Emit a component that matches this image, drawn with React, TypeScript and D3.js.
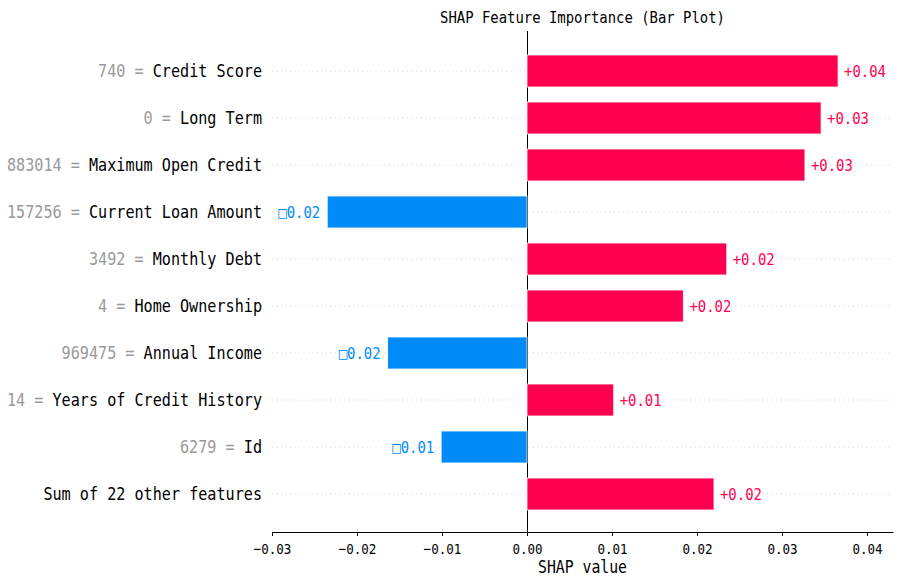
import * as d3 from 'd3'
import { useEffect, useRef } from 'react'

// feature names, their values and SHAP values (top to bottom)
const features = [
    'Credit Score',
    'Long Term',
    'Maximum Open Credit',
    'Current Loan Amount',
    'Monthly Debt',
    'Home Ownership',
    'Annual Income',
    'Years of Credit History',
    'Id',
    'Sum of 22 other features',
]
const featureValues = ['740', '0', '883014', '157256', '3492', '4', '969475', '14', '6279', '']
const shapValues = [0.0366, 0.0346, 0.0327, -0.0235, 0.0235, 0.0184, -0.0164, 0.0102, -0.0101, 0.022]
const xTicks = [-0.03, -0.02, -0.01, 0, 0.01, 0.02, 0.03, 0.04]

const RED = '#ff0051'
const BLUE = '#008bfb'
const FONT = '"DejaVu Sans Mono", monospace'
const SX = 0.86 // squeeze glyphs horizontally to look like a narrow CJK-style mono font

export default function App() {
    const svgRef = useRef<SVGSVGElement>(null)
    const width = 901
    const height = 584

    useEffect(() => {
        if (!svgRef.current) return
        const svg = d3.select(svgRef.current)
        svg.selectAll('*').remove()

        const margin = { top: 31, right: 8, bottom: 52, left: 272 }
        const innerHeight = height - margin.top - margin.bottom

        const x = d3
            .scaleLinear()
            .domain([-0.03, 0.04306])
            .range([margin.left, width - margin.right])

        const step = 47
        const y = (i: number) => margin.top + 40 + i * step
        const barH = 32

        const label = (px: number, py: number, size: number, anchor = 'start') =>
            svg
                .append('g')
                .attr('transform', `translate(${px},${py}) scale(${SX},1)`)
                .append('text')
                .attr('text-anchor', anchor)
                .style('font-family', FONT)
                .style('font-size', `${size}px`)

        // title
        label((margin.left + width - margin.right) / 2, 22.5, 16.2, 'middle').text(
            'SHAP Feature Importance (Bar Plot)'
        )

        // dotted row guides
        svg.selectAll('.guide')
            .data(features)
            .enter()
            .append('line')
            .attr('x1', margin.left)
            .attr('x2', width - margin.right)
            .attr('y1', (_, i) => y(i))
            .attr('y2', (_, i) => y(i))
            .attr('stroke', '#cccccc')
            .attr('stroke-width', 0.8)
            .attr('stroke-dasharray', '1 3.5')

        // zero line
        const x0 = Math.round(x(0)) + 0.5
        svg.append('line')
            .attr('x1', x0)
            .attr('x2', x0)
            .attr('y1', margin.top)
            .attr('y2', margin.top + innerHeight)
            .attr('stroke', '#000')
            .attr('stroke-width', 1)

        // bars
        svg.selectAll('.bar')
            .data(shapValues)
            .enter()
            .append('rect')
            .attr('x', (d) => Math.min(x(0), x(d)))
            .attr('y', (_, i) => y(i) - barH / 2)
            .attr('width', (d) => Math.abs(x(d) - x(0)))
            .attr('height', barH)
            .attr('fill', (d) => (d >= 0 ? RED : BLUE))
            .attr('stroke', 'rgba(255,255,255,0.8)')
            .attr('stroke-width', 1)

        // bar value labels
        shapValues.forEach((d, i) => {
            label(d >= 0 ? x(d) + 6 : x(d) - 7, y(i) + 5.5, 16.2, d >= 0 ? 'start' : 'end')
                .attr('fill', d >= 0 ? RED : BLUE)
                .text((d >= 0 ? '+' : '\u25a1') + Math.abs(d).toFixed(2))
        })

        // feature labels
        features.forEach((f, i) => {
            const t = label(margin.left - 10, y(i) + 6, 17.6, 'end')
            if (featureValues[i]) t.append('tspan').attr('fill', '#999999').text(featureValues[i] + ' = ')
            t.append('tspan').attr('fill', '#000').text(f)
        })

        // x axis
        const axis = svg
            .append('g')
            .attr('transform', `translate(0,${margin.top + innerHeight})`)
            .call(
                d3
                    .axisBottom(x)
                    .tickValues(xTicks)
                    .tickSize(4)
                    .tickSizeOuter(0)
                    .tickFormat((d) => d3.format('.2f')(d as number).replace('-', '\u2212'))
            )
        axis.select('.domain').attr('stroke', '#000').attr('stroke-width', 1.2)
        axis.selectAll('.tick line').attr('stroke', '#000')
        axis.selectAll('.tick text')
            .attr('dy', 0)
            .attr('y', 22)
            .attr('transform', `scale(${SX},1)`)
            .attr('fill', '#000')
            .style('font-family', FONT)
            .style('font-size', '14.6px')

        label((margin.left + width - margin.right) / 2, 573, 17.2, 'middle').text('SHAP value')
    }, [])

    return (
        <svg
            ref={svgRef}
            width={width}
            height={height}
            style={{ position: 'absolute', left: 0, top: 0, background: '#fff' }}
        />
    )
}
